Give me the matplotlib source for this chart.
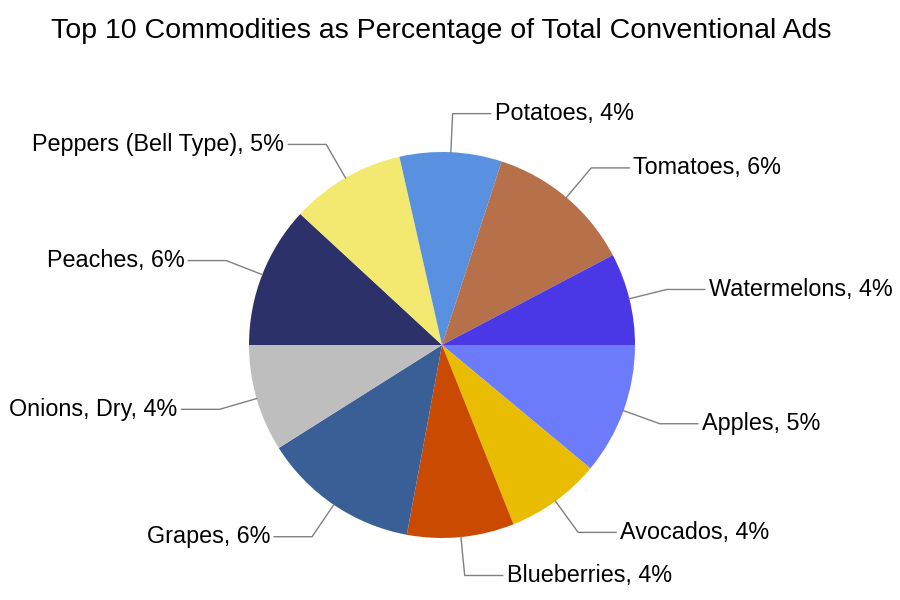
import numpy as np
import matplotlib.pyplot as plt

plt.rcParams["font.family"] = ["Liberation Sans", "DejaVu Sans"]

# Data (percent of total conventional ads)
commodities = ["Apples", "Avocados", "Blueberries", "Grapes", "Onions, Dry",
               "Peaches", "Peppers (Bell Type)", "Potatoes", "Tomatoes", "Watermelons"]
shares = [5.3, 3.8, 4.3, 6.3, 4.3, 5.7, 4.6, 4.1, 5.9, 3.7]
share_labels = ["5%", "4%", "4%", "6%", "4%", "6%", "5%", "4%", "6%", "4%"]
colors = ["#6B7BFA", "#E8BC00", "#C94A00", "#3A5E96", "#BEBEBE",
          "#2C316A", "#F3E870", "#5A90E0", "#B6704A", "#4A38E6"]

fig = plt.figure(figsize=(9, 6), dpi=100)
ax = fig.add_axes([0, 0, 1, 1])

cx, cy, R = 442, 255, 193
wedges, _ = ax.pie(shares, colors=colors, startangle=0, counterclock=False,
                   radius=R, center=(cx, cy), frame=True)
ax.set_xlim(0, 900)
ax.set_ylim(0, 600)
ax.axis("off")

# Leader lines and labels
for w, name, lab in zip(wedges, commodities, share_labels):
    mid = np.deg2rad((w.theta1 + w.theta2) / 2)
    c, s = np.cos(mid), np.sin(mid)
    x0, y0 = cx + R * c, cy + R * s
    x1, y1 = cx + 1.2 * R * c, cy + 1.2 * R * s
    side = 1 if c >= 0 else -1
    x2 = x1 + side * 38
    ax.plot([x0, x1, x2], [y0, y1, y1], color="#808080", lw=1)
    ax.text(x2 + side * 4, y1, f"{name}, {lab}", fontsize=16.8,
            ha="left" if side > 0 else "right", va="center", color="black")

fig.text(0.49, 0.948, "Top 10 Commodities as Percentage of Total Conventional Ads",
         fontsize=20.5, ha="center", va="center")

fig.savefig("out.png", dpi=100)
